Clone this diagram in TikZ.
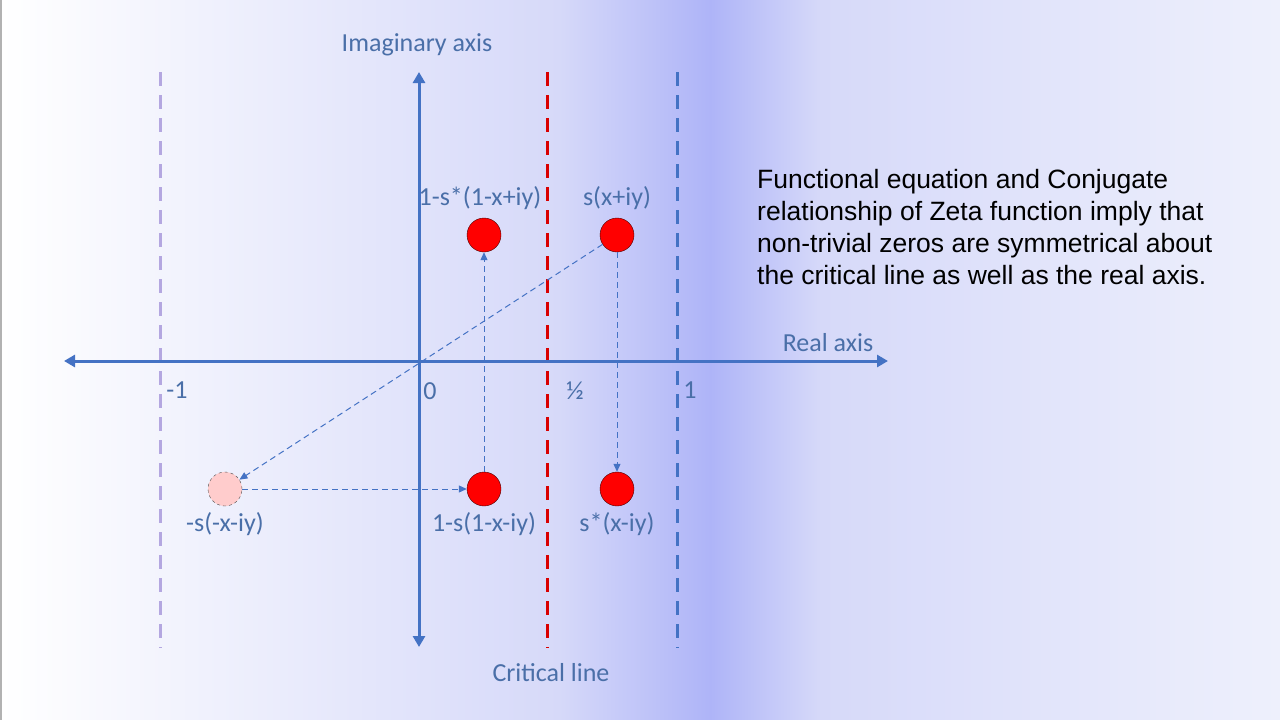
\documentclass[tikz,border=0pt]{standalone}
\usepackage{fontspec}
\setmainfont{Carlito}
\newfontfamily\arialf{Liberation Sans}
\usetikzlibrary{arrows.meta}
\definecolor{axb}{HTML}{4472C4}
\definecolor{peak}{HTML}{AEB4F8}
\definecolor{mid}{HTML}{D6D9F9}
\definecolor{rgt}{HTML}{EEF0FC}
\definecolor{lav}{HTML}{B4A7E0}
\definecolor{lbl}{HTML}{4A6FA8}
\begin{document}
\begin{tikzpicture}[x=1pt,y=-1pt,
  axis/.style={draw=axb,line width=3pt},
  vdash/.style={line width=3pt,dash pattern=on 14pt off 9pt},
  zero/.style={circle,draw=black!70!red,fill=red,minimum size=34pt,inner sep=0pt},
  conn/.style={draw=axb,line width=1pt,dash pattern=on 6pt off 4pt,-{Triangle[length=8pt,width=7pt]}},
  lab/.style={text=lbl,font=\fontsize{26}{30}\selectfont}]
\useasboundingbox (0,0) rectangle (1280,720);
\shade[left color=white,right color=mid] (0,0) rectangle (560,720);
\shade[left color=mid,right color=peak] (559,0) rectangle (711,720);
\shade[left color=peak,right color=mid] (710,0) rectangle (821,720);
\shade[left color=mid,right color=rgt] (820,0) rectangle (1280,720);
\draw[gray!60,line width=1.5pt] (1,0) -- (1,720);
\draw[vdash,lav] (160,72) -- (160,648);
\draw[vdash,red!85!black] (547,72) -- (547,648);
\draw[vdash,axb] (677,72) -- (677,648);
\coordinate (L) at (64,361); \coordinate (R) at (888,361);
\coordinate (T) at (419,72); \coordinate (B) at (419,647);
\draw[axis,{Triangle[length=11pt,width=12pt]}-{Triangle[length=11pt,width=12pt]}] (L) -- (R);
\draw[axis,{Triangle[length=11pt,width=12pt]}-{Triangle[length=11pt,width=12pt]}] (T) -- (B);
\node[zero] (a) at (484,235) {};
\node[zero] (b) at (617,235) {};
\node[zero] (c) at (484,489) {};
\node[zero] (d) at (617,489) {};
\node[circle,draw=black!70,dashed,fill=red!20,minimum size=34pt,inner sep=0pt] (e) at (225,489) {};
\draw[conn] (b) -- (e);
\draw[conn] (b) -- (d);
\draw[conn] (c) -- (a);
\draw[conn] (e) -- (c);
\node[lab] (ta) at (480,198) {1-s*(1-x+iy)};
\node[lab] (tb) at (617,198) {s(x+iy)};
\node[lab] (te) at (225,524) {-s(-x-iy)};
\node[lab] (tc) at (484,524) {1-s(1-x-iy)};
\node[lab] (td) at (617,524) {s*(x-iy)};
\node[lab] (im) at (417,45) {Imaginary axis};
\node[lab] (re) at (828,343) {Real axis};
\node[lab] (cr) at (551,673) {Critical line};
\node[lab] (m1) at (177,390) {-1};
\node[lab] (z0) at (430,391) {0};
\node[lab] (hf) at (575,391) {½};
\node[lab] (o1) at (690,390) {1};
\node[anchor=north west,align=left,font=\arialf\fontsize{26.5}{32}\selectfont,inner sep=0pt] (txt) at (757,169)
 {Functional equation and Conjugate\\relationship of Zeta function imply that\\non-trivial zeros are symmetrical about\\the critical line as well as the real axis.};
\end{tikzpicture}
\end{document}
